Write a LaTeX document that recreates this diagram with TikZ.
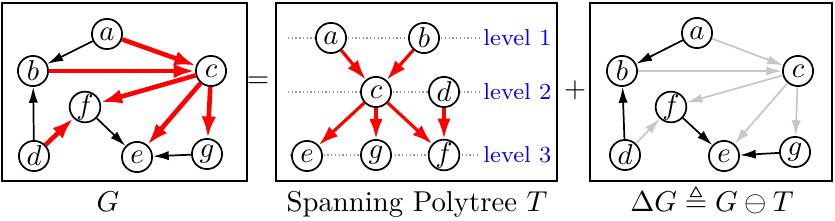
\documentclass[tikz,border=0pt]{standalone}
\usepackage{amsmath,amssymb}
\usetikzlibrary{arrows.meta}
\definecolor{dotgray}{rgb}{0.55,0.6,0.68}
\begin{document}
\begin{tikzpicture}[x=0.348pt,y=-0.348pt,
 vtx/.style={circle,draw,line width=0.6pt,fill=white,minimum size=10.5pt,inner sep=0pt},
 panel/.style={draw,line width=0.8pt},
 blk/.style={-{Latex[length=5.5pt,width=3.2pt]},line width=0.6pt,black},
 redG/.style={-{Latex[length=7.5pt,width=5pt]},line width=1.6pt,red},
 redT/.style={-{Latex[length=7pt,width=4.6pt]},line width=1.1pt,red},
 gry/.style={-{Latex[length=5.5pt,width=3.2pt]},line width=0.6pt,black!22},
 lvl/.style={dash pattern=on 0.45pt off 0.85pt,line width=0.55pt,dotgray},
 lvltxt/.style={anchor=west,text=blue,font=\footnotesize,inner sep=1pt},
 captxt/.style={anchor=base,inner sep=0pt}]
\useasboundingbox (0,0) rectangle (835,221);

% ---------- panel G ----------
\draw[panel] (2,3) rectangle (247,181);
\node[vtx] (Ga) at (107,34) {$a$};
\node[vtx] (Gb) at (33,71) {$b$};
\node[vtx] (Gc) at (211,71) {$c$};
\node[vtx] (Gf) at (85,107) {$f$};
\node[vtx] (Gd) at (34,156) {$d$};
\node[vtx] (Ge) at (137,157) {$e$};
\node[vtx] (Gg) at (207,154) {$g$};
\draw[blk] (Ga) -- (Gb);
\draw[blk] (Gd) -- (Gb);
\draw[blk] (Gf) -- (Ge);
\draw[blk] (Gg) -- (Ge);
\draw[redG] (Ga) -- (Gc);
\draw[redG] (Gb) -- (Gc);
\draw[redG] (Gc) -- (Gf);
\draw[redG] (Gc) -- (Ge);
\draw[redG] (Gc) -- (Gg);
\draw[redG] (Gd) -- (Gf);
\node[captxt] (capG) at (108,212) {$G$};

% ---------- equals ----------
\node (eq) at (258,82) {$=$};

% ---------- panel T ----------
\draw[panel] (276,3) rectangle (557,181);
\coordinate (l1s) at (288,38);  \coordinate (l1e) at (480,38);
\coordinate (l2s) at (288,92);  \coordinate (l2e) at (480,92);
\coordinate (l3s) at (290,155); \coordinate (l3e) at (480,155);
\draw[lvl] (l1s) -- (l1e);
\draw[lvl] (l2s) -- (l2e);
\draw[lvl] (l3s) -- (l3e);
\node[lvltxt] (lv1) at (480,38) {level 1};
\node[lvltxt] (lv2) at (480,92) {level 2};
\node[lvltxt] (lv3) at (480,155) {level 3};
\node[vtx] (Ta) at (331,38) {$a$};
\node[vtx] (Tb) at (424,38) {$b$};
\node[vtx] (Tc) at (376,92) {$c$};
\node[vtx] (Td) at (444,92) {$d$};
\node[vtx] (Te) at (307,156) {$e$};
\node[vtx] (Tg) at (376,155) {$g$};
\node[vtx] (Tf) at (444,155) {$f$};
\draw[redT] (Ta) -- (Tc);
\draw[redT] (Tb) -- (Tc);
\draw[redT] (Tc) -- (Te);
\draw[redT] (Tc) -- (Tg);
\draw[redT] (Tc) -- (Tf);
\draw[redT] (Td) -- (Tf);
\node[captxt] (capT) at (417,212) {Spanning Polytree $T$};

% ---------- plus ----------
\node (plus) at (575,90) {$+$};

% ---------- panel Delta G ----------
\draw[panel] (590,3) rectangle (832,181);
\node[vtx] (Da) at (697,33) {$a$};
\node[vtx] (Db) at (622,71) {$b$};
\node[vtx] (Dc) at (798,71) {$c$};
\node[vtx] (Df) at (671,107) {$f$};
\node[vtx] (Dd) at (625,155) {$d$};
\node[vtx] (De) at (724,156) {$e$};
\node[vtx] (Dg) at (795,152) {$g$};
\draw[gry] (Da) -- (Dc);
\draw[gry] (Db) -- (Dc);
\draw[gry] (Dc) -- (Df);
\draw[gry] (Dc) -- (De);
\draw[gry] (Dc) -- (Dg);
\draw[gry] (Dd) -- (Df);
\draw[blk] (Da) -- (Db);
\draw[blk] (Dd) -- (Db);
\draw[blk] (Df) -- (De);
\draw[blk] (Dg) -- (De);
\node[captxt] (capD) at (712,212) {$\Delta G \triangleq G \ominus T$};
\end{tikzpicture}
\end{document}
